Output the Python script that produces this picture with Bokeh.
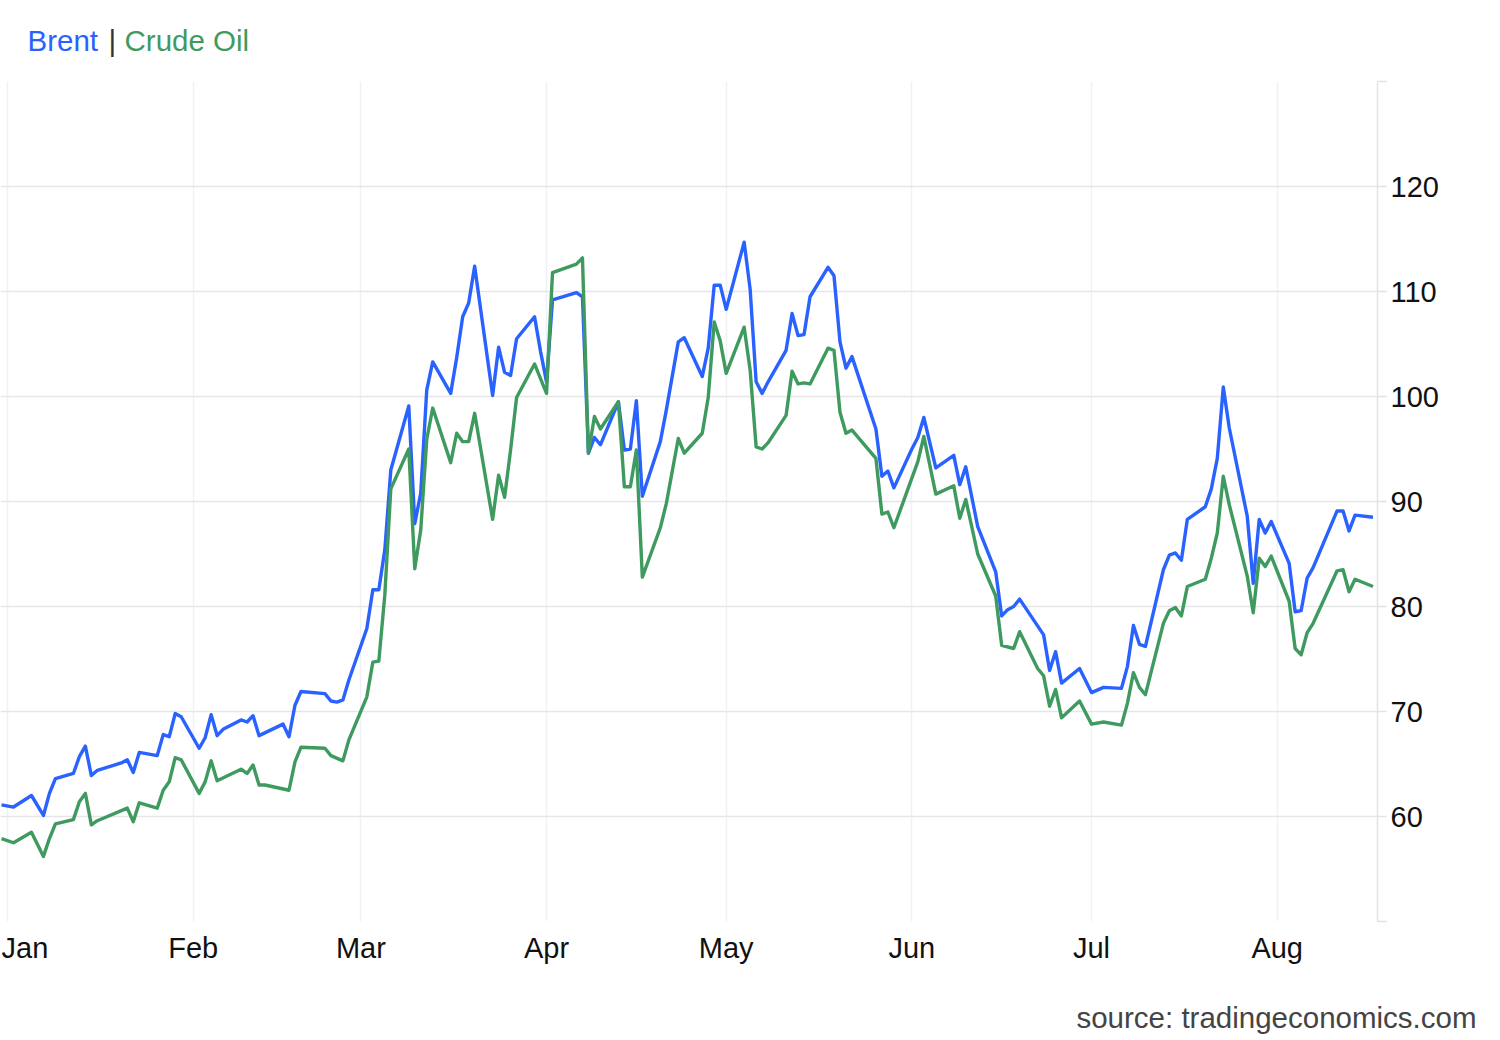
from bokeh.plotting import figure
from bokeh.models import Range1d, FixedTicker, LinearAxis
from bokeh.layouts import column
from bokeh.core.properties import value
from bokeh.embed import file_html
from bokeh.resources import INLINE

# ---- data (day offsets from Jan 1, values in USD/bbl) ----
months = ["Jan", "Feb", "Mar", "Apr", "May", "Jun", "Jul", "Aug"]
month_start_days = [0, 31, 59, 90, 120, 151, 181, 212]
y_ticks = [50, 60, 70, 80, 90, 100, 110, 120, 130]

brent_days = [-1, 1, 4, 6, 7, 8, 11, 12, 13, 14, 15, 19, 20, 21, 22, 25, 26, 27, 28, 29,
              32, 33, 34, 35, 36, 39, 40, 41, 42, 46, 47, 48, 49, 53, 54, 55, 56, 57,
              60, 61, 62, 63, 64, 67, 68, 69, 70, 71, 74, 75, 76, 77, 78, 81, 82, 83, 84, 85,
              88, 89, 90, 91, 95, 96, 97, 98, 99, 102, 103, 104, 105, 106, 109, 110, 112, 113,
              116, 117, 118, 119, 120, 123, 124, 125, 126, 127, 130, 131, 132, 133, 134,
              137, 138, 139, 140, 141, 145, 146, 147, 148, 151, 152, 153, 155, 158, 159, 160,
              162, 165, 166, 167, 168, 169, 173, 174, 175, 176, 179, 181, 183, 186, 187, 188,
              189, 190, 193, 194, 195, 196, 197, 200, 201, 202, 203, 204, 207, 208, 209, 210,
              211, 214, 215, 216, 217, 218, 222, 223, 224, 225, 228]
brent_vals = [61.1, 60.9, 62.0, 60.1, 62.2, 63.6, 64.1, 65.7, 66.7, 63.9, 64.4, 65.1, 65.4, 64.2, 66.1,
              65.8, 67.8, 67.6, 69.8, 69.5,
              66.5, 67.5, 69.7, 67.7, 68.3, 69.2, 69.0, 69.6, 67.7, 68.8, 67.6, 70.6, 71.9,
              71.7, 71.0, 70.9, 71.1, 73.0,
              77.9, 81.6, 81.6, 85.4, 93.0, 99.1, 87.9, 90.8, 100.6, 103.3, 100.3, 103.7, 107.6,
              108.9, 112.4, 100.1, 104.7, 102.3, 102.0, 105.5,
              107.6, 104.3, 101.4, 109.2, 109.9, 109.5, 94.6, 96.1, 95.4, 99.5, 94.9, 95.0, 99.6,
              90.5, 95.7, 98.7, 105.2, 105.6,
              101.9, 104.6, 110.6, 110.6, 108.3, 114.7, 110.2, 101.4, 100.3, 101.4, 104.4, 107.9,
              105.8, 105.9, 109.5,
              112.3, 111.5, 105.2, 102.7, 103.8, 96.9, 92.4, 92.9, 91.3, 95.0, 96.1, 98.0, 93.2,
              94.4, 91.6, 93.3,
              87.6, 83.3, 79.1, 79.7, 80.0, 80.7, 77.3, 73.9, 75.7, 72.7, 74.1, 71.8, 72.3, 72.2,
              74.3, 78.2,
              76.4, 76.2, 83.5, 84.9, 85.1, 84.4, 88.3, 89.5, 91.2, 94.1, 100.9, 97.0, 88.6, 82.2,
              88.3, 87.0,
              88.1, 84.1, 79.5, 79.6, 82.7, 83.7, 89.1, 89.1, 87.2, 88.7, 88.5]

crude_days = [-1, 1, 4, 6, 7, 8, 11, 12, 13, 14, 15, 20, 21, 22, 25, 26, 27, 28, 29,
              32, 33, 34, 35, 39, 40, 41, 42, 43, 47, 48, 49, 53, 54, 56, 57,
              60, 61, 62, 63, 64, 67, 68, 69, 70, 71, 74, 75, 76, 77, 78, 81, 82, 83, 84, 85,
              88, 90, 91, 95, 96, 97, 98, 99, 102, 103, 104, 105, 106, 109, 110, 112, 113,
              116, 117, 118, 119, 120, 123, 124, 125, 126, 127, 130, 131, 132, 133, 134,
              137, 138, 139, 140, 141, 145, 146, 147, 148, 152, 153, 155, 158, 159, 160,
              162, 165, 166, 168, 169, 172, 173, 174, 175, 176, 179, 181, 183, 186, 187, 188,
              189, 190, 193, 194, 195, 196, 197, 200, 201, 202, 203, 204, 207, 208, 209, 210,
              211, 214, 215, 216, 217, 218, 222, 223, 224, 225, 228]
crude_vals = [57.9, 57.5, 58.5, 56.2, 57.9, 59.3, 59.7, 61.4, 62.2, 59.2, 59.6, 60.8, 59.5, 61.3,
              60.8, 62.5, 63.3, 65.6, 65.4,
              62.2, 63.3, 65.3, 63.4, 64.5, 64.1, 64.9, 63.0, 63.0, 62.5, 65.2, 66.6, 66.5, 65.8,
              65.3, 67.3,
              71.4, 74.7, 74.8, 81.1, 91.2, 95.0, 83.6, 87.3, 95.9, 98.9, 93.7, 96.5, 95.7, 95.7,
              98.4, 88.3, 92.5, 90.4, 94.9, 99.9,
              103.1, 100.3, 111.8, 112.6, 113.2, 94.6, 98.1, 96.9, 99.5, 91.4, 91.4, 94.9, 82.8,
              87.5, 89.8, 96.0, 94.6,
              96.5, 99.9, 107.1, 105.3, 102.2, 106.6, 102.5, 95.2, 95.0, 95.6, 98.2, 102.4, 101.2,
              101.3, 101.2,
              104.6, 104.4, 98.5, 96.5, 96.8, 94.1, 88.8, 89.0, 87.5, 93.8, 96.2, 90.7, 91.5, 88.4,
              90.2,
              85.0, 81.0, 76.3, 76.0, 77.6, 74.1, 73.4, 70.5, 72.1, 69.4, 71.0, 68.8, 69.0, 68.7,
              70.8, 73.7,
              72.3, 71.6, 78.4, 79.6, 79.9, 79.1, 81.9, 82.6, 84.6, 87.0, 92.4, 89.7, 82.9, 79.4,
              84.6, 83.8,
              84.8, 80.5, 76.0, 75.4, 77.5, 78.4, 83.4, 83.5, 81.4, 82.6, 81.9]

title_parts = ["Brent", "|", "Crude Oil"]
source_text = "source: tradingeconomics.com"

# ---- styling / layout ----
BLUE = "#2962ff"
GREEN = "#3f9a5f"
FONT = "Liberation Sans"
W = 1500
TOP_H = 74
B_LEFT, B_RIGHT, B_TOP, B_BOTTOM = 0, 123, 7, 114
FRAME_H = 841
MAIN_H = B_TOP + FRAME_H + B_BOTTOM
X_START, X_END = -1.17, 228.75
frame_w = W - B_LEFT - B_RIGHT
px_per_day = frame_w / (X_END - X_START)

# title strip (its frame is aligned with the chart frame; data units = pixels)
top = figure(width=W, height=TOP_H, output_backend="svg", toolbar_location=None, title=None,
             x_range=Range1d(0, frame_w), y_range=Range1d(TOP_H, 0),
             min_border_left=B_LEFT, min_border_right=B_RIGHT,
             min_border_top=0, min_border_bottom=0)
top.axis.visible = False
top.grid.visible = False
top.outline_line_color = None
top.text(x=[27, 108, 124], y=[40, 40, 40], text=title_parts,
         text_color=[BLUE, "#333333", GREEN], text_font=value(FONT),
         text_font_size=value("29.5px"), text_baseline="middle", text_align="left")

# main chart
p = figure(width=W, height=MAIN_H, output_backend="svg", toolbar_location=None,
           title=None, y_axis_location="right",
           x_range=Range1d(X_START, X_END), y_range=Range1d(y_ticks[0], y_ticks[-1]),
           min_border_left=B_LEFT, min_border_right=B_RIGHT,
           min_border_top=B_TOP, min_border_bottom=B_BOTTOM)
p.outline_line_color = None

p.line(brent_days, brent_vals, line_color=BLUE, line_width=3.4, line_join="round")
p.line(crude_days, crude_vals, line_color=GREEN, line_width=3.4, line_join="round")

label_pos = list(month_start_days)
label_pos[0] = max(label_pos[0], X_START + 24.5 / px_per_day)
xa = p.xaxis[0]
xa.ticker = FixedTicker(ticks=label_pos)
xa.major_label_overrides = {d: m for d, m in zip(label_pos, months)}
xa.axis_line_color = None
xa.major_tick_line_color = None
xa.minor_tick_line_color = None
xa.major_tick_out = 0
xa.major_tick_in = 0
xa.major_label_standoff = 10
xa.major_label_text_font = FONT
xa.major_label_text_font_size = "29px"
xa.major_label_text_color = "#111111"

p.xgrid.ticker = FixedTicker(ticks=month_start_days)
p.xgrid.grid_line_color = "#eef1f5"
p.xgrid.grid_line_width = 1.5

ya = p.yaxis[0]
ya.ticker = FixedTicker(ticks=y_ticks)
ya.major_label_overrides = {y_ticks[0]: "", y_ticks[-1]: ""}
ya.axis_line_color = "#e3e3e3"
ya.axis_line_width = 1.5
ya.major_tick_line_color = "#e3e3e3"
ya.major_tick_line_width = 1.5
ya.major_tick_out = 9
ya.major_tick_in = 0
ya.minor_tick_line_color = None
ya.major_label_standoff = 4
ya.major_label_text_font = FONT
ya.major_label_text_font_size = "29px"
ya.major_label_text_color = "#111111"

p.ygrid.ticker = FixedTicker(ticks=y_ticks)
p.ygrid.grid_line_color = "#e6e6e6"
p.ygrid.grid_line_width = 1.5

# source note: a label-only axis below the month axis (pixel range)
src_center = 1276
p.extra_x_ranges = {"px": Range1d(0, frame_w)}
src_axis = LinearAxis(x_range_name="px", ticker=FixedTicker(ticks=[src_center]),
                      major_label_overrides={src_center: source_text})
src_axis.axis_line_color = None
src_axis.major_tick_line_color = None
src_axis.minor_tick_line_color = None
src_axis.major_tick_out = 0
src_axis.major_tick_in = 0
src_axis.major_label_standoff = 34
src_axis.major_label_text_font = FONT
src_axis.major_label_text_font_size = "29.5px"
src_axis.major_label_text_color = "#444444"
p.add_layout(src_axis, "below")

layout = column(top, p, spacing=0)
open("out.html", "w").write(file_html(layout, INLINE))
